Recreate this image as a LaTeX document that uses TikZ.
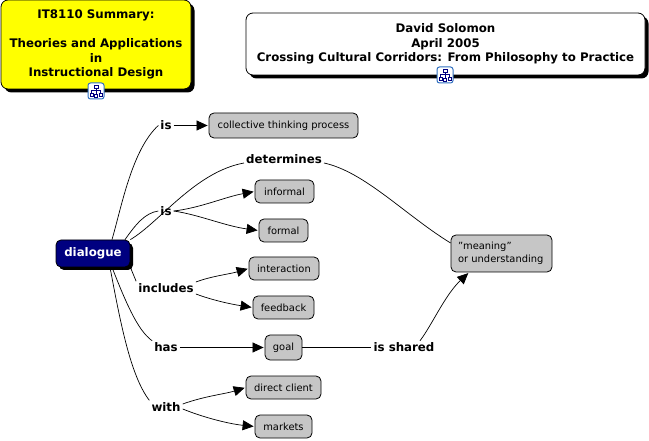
\documentclass[tikz,border=0pt]{standalone}
\usepackage{fontspec}
\setmainfont{DejaVu Sans}
\usetikzlibrary{arrows.meta,shadows}
\definecolor{conceptgrey}{HTML}{C6C6C6}
\definecolor{rootblue}{HTML}{000080}
\definecolor{iconblue}{HTML}{2F6FC0}
\definecolor{summaryyellow}{HTML}{FFFF00}
\begin{document}
\begin{tikzpicture}[
    x=1pt, y=-1pt,
    concept/.style={draw, fill=conceptgrey, rounded corners=5pt, line width=0.8pt, align=center, inner sep=0pt, font=\fontsize{9.9}{12.5}\selectfont},
    heading/.style={draw, line width=0.8pt, rounded corners=7pt, align=center, inner sep=0pt, font=\fontsize{11.8}{14.5}\selectfont\bfseries, drop shadow={shadow xshift=3.5pt, shadow yshift=-3.5pt, fill=black, opacity=1}},
    root/.style={draw, fill=rootblue, text=white, rounded corners=5pt, line width=0.8pt, inner sep=0pt, font=\fontsize{11.8}{14}\selectfont\bfseries, drop shadow={shadow xshift=3pt, shadow yshift=-3pt, fill=black, opacity=1}},
    link/.style={font=\fontsize{11.8}{14}\selectfont\bfseries, inner sep=2pt},
    mapicon/.style={draw=iconblue, fill=white, line width=1pt, rounded corners=2.5pt, minimum size=16pt, inner sep=0pt},
    line/.style={line width=0.7pt},
    arrow/.style={line, shorten >=1pt, -{Stealth[length=11pt, width=10pt, inset=0pt]}}
  ]
  \useasboundingbox (0,0) rectangle (649,441);

  % Heading boxes
  \node[heading, fill=summaryyellow, minimum width=190pt, minimum height=89pt] (summary) at (96,44.5) {IT8110 Summary:\\[14.5pt]Theories and Applications\\in\\Instructional Design};
  \node[heading, fill=white, minimum width=399pt, minimum height=62pt] (author) at (445.5,44) {David Solomon\\April 2005\\Crossing Cultural Corridors: From Philosophy to Practice};

  % Small map icons on the heading boxes
  \foreach \iconname/\iconx/\icony in {iconsummary/96/91, iconauthor/445/75} {
    \node[mapicon] (\iconname) at (\iconx,\icony) {};
    \draw[rootblue, line width=0.6pt] (\iconx-2,\icony-6) rectangle (\iconx+2,\icony-3)
      (\iconx,\icony-3) -- (\iconx,\icony+3)
      (\iconx-4.5,\icony+2) |- (\iconx+4.5,\icony-1) -- (\iconx+4.5,\icony+2)
      (\iconx-6,\icony+2) rectangle (\iconx-3,\icony+5)
      (\iconx-1.5,\icony+3) rectangle (\iconx+1.5,\icony+6)
      (\iconx+3,\icony+2) rectangle (\iconx+6,\icony+5);
  }

  % Concepts
  \node[root, minimum width=74pt, minimum height=27pt] (dialogue) at (93,253.5) {dialogue};
  \node[concept, minimum width=149pt, minimum height=25pt] (collective) at (283.5,125.5) {collective thinking process};
  \node[concept, minimum width=59pt, minimum height=23pt] (informal) at (284.5,191.5) {informal};
  \node[concept, minimum width=49pt, minimum height=23pt] (formal) at (283.5,230.5) {formal};
  \node[concept, minimum width=70pt, minimum height=23pt] (interaction) at (284,268.5) {interaction};
  \node[concept, minimum width=61pt, minimum height=23pt] (feedback) at (283.5,307.5) {feedback};
  \node[concept, minimum width=37pt, minimum height=25pt] (goal) at (283.5,347.5) {goal};
  \node[concept, minimum width=75pt, minimum height=23pt] (client) at (283.5,387.5) {direct client};
  \node[concept, minimum width=57pt, minimum height=23pt] (markets) at (283.5,426.5) {markets};
  \node[concept, minimum width=101pt, minimum height=37pt, align=left, text width=87pt] (meaning) at (501.5,253.5) {"meaning"\\or understanding};

  % Linking words
  \node[link] (isA) at (166,125.5) {is};
  \node[link] (determines) at (284,159) {determines};
  \node[link] (isB) at (166,211) {is};
  \node[link] (includes) at (166,288) {includes};
  \node[link] (has) at (166,347.5) {has};
  \node[link] (with) at (166,407) {with};
  \node[link] (shared) at (404,347.5) {is shared};

  % Lines out of the root
  \draw[line] ([xshift=19pt]dialogue.north) .. controls (122,205) and (132,150) .. (isA.west);
  \draw[line] ([xshift=32pt]dialogue.north) .. controls (136,224) and (145,213) .. (isB.west);
  \draw[line] (dialogue.north east) .. controls (160,222) and (195,172) .. ([yshift=-4pt]determines.west);
  \draw[line] (dialogue.south east) -- (includes.north west);
  \draw[line] ([xshift=19pt]dialogue.south) .. controls (125,300) and (137,330) .. (has.north west);
  \draw[line] ([xshift=17pt]dialogue.south) .. controls (120,320) and (130,375) .. (with.north west);

  % Lines into the concepts
  \draw[arrow] (isA.east) -- (collective.west);
  \draw[arrow] (isB.east) .. controls (200,208) and (225,197) .. (informal.west);
  \draw[arrow] (isB.east) .. controls (200,215) and (225,226) .. (formal.west);
  \draw[arrow] ([yshift=6pt]includes.east) .. controls (212,276) and (230,274) .. (interaction.west);
  \draw[arrow] ([yshift=-6pt]includes.east) .. controls (212,300) and (230,304) .. (feedback.west);
  \draw[arrow] (has.east) -- (goal.west);
  \draw[arrow] ([yshift=3pt]with.east) .. controls (205,396) and (225,394) .. (client.west);
  \draw[arrow] ([yshift=-2pt]with.east) .. controls (205,418) and (230,424) .. (markets.west);

  % Lines into the meaning box
  \draw[line] ([yshift=-4pt]determines.east) .. controls (365,172) and (405,215) .. (meaning.west |- 0,243);
  \draw[line] (goal.east) -- (shared.west);
  \draw[arrow] ([xshift=16pt]shared.north) .. controls (432,325) and (445,295) .. (meaning.south -| 469,0);

\end{tikzpicture}
\end{document}
